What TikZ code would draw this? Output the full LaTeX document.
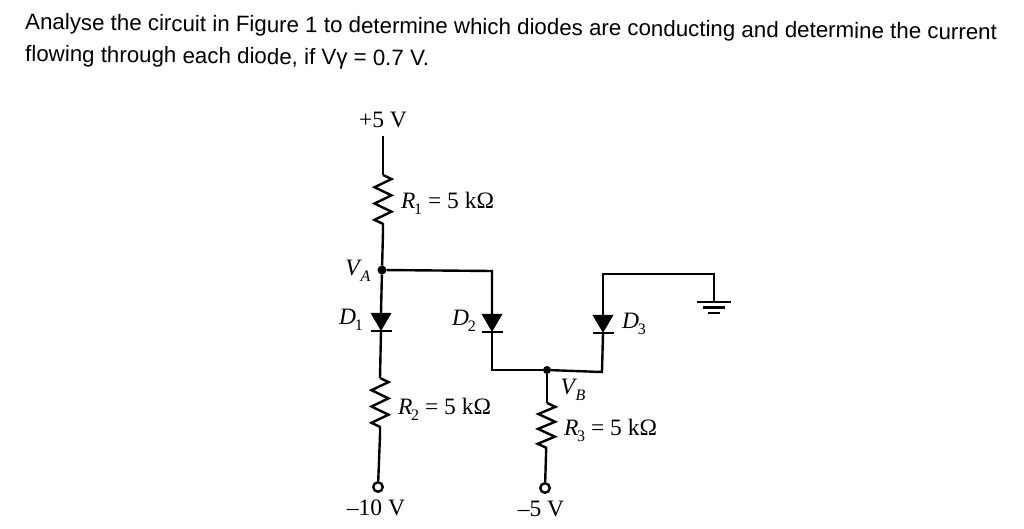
\documentclass[tikz,border=0pt]{standalone}
\usepackage{fontspec}
\setmainfont{Liberation Serif}
\newfontfamily\headfont{Liberation Sans}
\usetikzlibrary{positioning,shapes.geometric,decorations.pathmorphing}
\newcommand{\lbl}[2]{\textit{#1}\kern-0.06em\raisebox{-0.26em}{\fontsize{16}{16}\selectfont #2}}

\begin{document}
\begin{tikzpicture}[
    x=1pt,y=-1pt,line width=2.4pt,
    lab/.style={inner sep=0pt,font=\fontsize{23.5}{26}\selectfont},
    head/.style={inner sep=0pt,anchor=base west,rotate=-0.6,font=\headfont\fontsize{22.3}{26}\selectfont},
    diode/.style={isosceles triangle,isosceles triangle stretches,shape border rotate=-90,fill=black,inner sep=0pt,outer sep=0pt,minimum width=21pt,minimum height=18pt},
    dot/.style={circle,fill=black,inner sep=0pt,outer sep=0pt,minimum size=9pt},
    term/.style={circle,draw,fill=white,inner sep=0pt,minimum size=9.5pt},
    res/.style={decorate,decoration={zigzag,segment length=16.3pt,amplitude=8.5pt}},
]
\useasboundingbox (0,0) rectangle (1024,529);

% Question
\node[head] (lineone) at (24,29.5) {Analyse the circuit in Figure 1 to determine which diodes are conducting and determine the current};
\node[head] (linetwo) at (24,61.5) {flowing through each diode, if Vγ = 0.7 V.};

% Nodes
\node[lab] (top) at (383,120) {+5 V};
\coordinate (vcc) at (383,136);
\coordinate (r1a) at (383,175);
\coordinate (r1b) at (383,232);
\node[dot] (va) at (382,270) {};
\node[diode] (d1) at (381,319) {};
\coordinate (r2a) at (380,378);
\coordinate (r2b) at (380,435);
\node[term] (tm10) at (378,487) {};
\node[lab,below=6pt of tm10,xshift=-2pt] (m10) {--10 V};

\coordinate (c2a) at (492,271);
\node[diode] (d2) at (492,320) {};
\coordinate (c2b) at (492,370);
\node[dot,minimum size=8pt] (vb) at (547,370) {};
\coordinate (r3a) at (547,403);
\coordinate (r3b) at (546,455);
\node[term] (tm5) at (545,488) {};
\node[lab,below=6pt of tm5,xshift=-4pt] (m5) {--5 V};

\coordinate (c3a) at (602,372);
\node[diode] (d3) at (603,321) {};
\coordinate (c3b) at (603,274);
\coordinate (c3c) at (714,274);
\coordinate (gnd) at (714,302);

% Labels
\node[lab,anchor=west] (lr1) at (400,203.5) {\lbl{R}{1} = 5 kΩ};
\node[lab,anchor=west] (lr2) at (397,409) {\lbl{R}{2} = 5 kΩ};
\node[lab,anchor=west] (lr3) at (563,430) {\lbl{R}{3} = 5 kΩ};
\node[lab] (lva) at (358,271) {\lbl{V}{\textit{A}}};
\node[lab] (lvb) at (573,390) {\lbl{V}{\textit{B}}};
\node[lab] (ld1) at (351,320) {\lbl{D}{1}};
\node[lab] (ld2) at (464,321) {\lbl{D}{2}};
\node[lab] (ld3) at (634,324) {\lbl{D}{3}};

% Wires
\draw (vcc) -- (r1a);
\draw[res] (r1a) -- (r1b);
\draw (r1b) -- (va);
\draw (va) -- (d1.north);
\draw (d1.apex) -- (r2a);
\draw[res] (r2a) -- (r2b);
\draw (r2b) -- (tm10);
\draw (va) -- (c2a) -- (d2.north);
\draw (d2.apex) -- (c2b) -- (vb);
\draw (vb) -- (r3a);
\draw[res,decoration={segment length=14.9pt}] (r3a) -- (r3b);
\draw (r3b) -- (tm5);
\draw (vb) -- (c3a) -- (d3.apex);
\draw (d3.north) -- (c3b) -- (c3c) -- (gnd);

% Diode bars
\foreach \d in {d1,d2,d3}
  \draw (\d.apex) ++(-10.5,0) -- ++(21,0);

% Ground
\draw (gnd) ++(-17,0) -- ++(34,0);
\draw (gnd) ++(-11,5.5) -- ++(22,0);
\draw (gnd) ++(-6,11) -- ++(12,0);
\end{tikzpicture}
\end{document}
